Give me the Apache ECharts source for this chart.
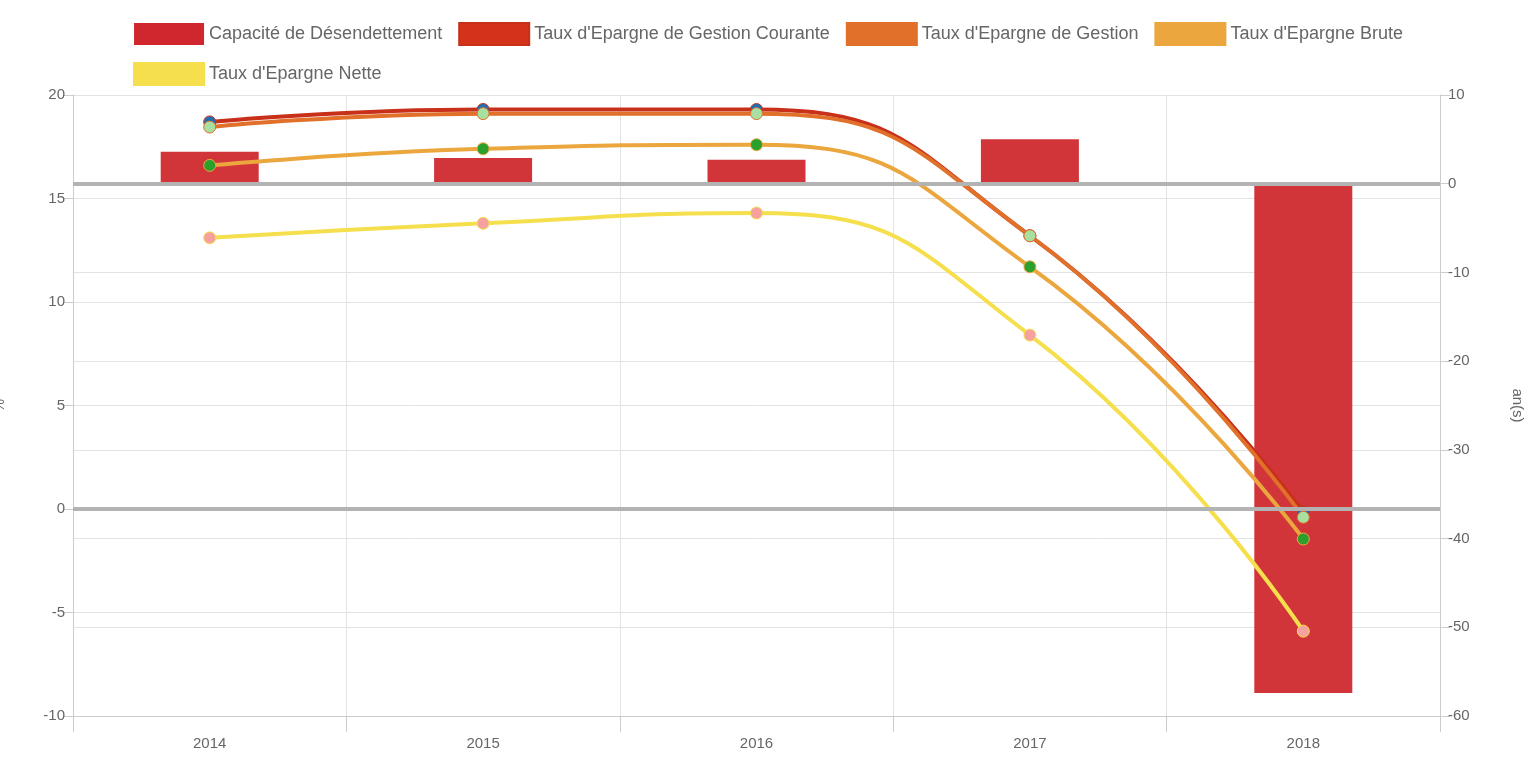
<!DOCTYPE html>
<html lang="fr">
<head>
  <meta charset="UTF-8">
  <script src="https://cdn.jsdelivr.net/npm/echarts@6/dist/echarts.min.js"></script>
  <style>body{margin:0;background:#fff;}</style>
</head>
<body>
<div id="main" style="width:1536px;height:762px;"></div>
<script>
  var years = ['2014', '2015', '2016', '2017', '2018'];
  var capacite = [3.6, 2.9, 2.7, 5.0, -57.4];
  var gestionCourante = [18.7, 19.3, 19.3, 13.2, -0.15];
  var gestion = [18.45, 19.1, 19.1, 13.2, -0.4];
  var brute = [16.6, 17.4, 17.6, 11.7, -1.45];
  var nette = [13.1, 13.8, 14.3, 8.4, -5.9];

  var chart = echarts.init(document.getElementById('main'));

  function lineSerie(name, data, color, dot) {
    return {
      name: name, type: 'line', data: data, smooth: 0.5, yAxisIndex: 0,
      symbol: 'circle', symbolSize: 12,
      lineStyle: {color: color, width: 4},
      itemStyle: {color: dot, borderColor: color, borderWidth: 1},
      color: color
    };
  }

  var zeroLine = {
    silent: true, symbol: 'none', label: {show: false},
    lineStyle: {color: '#b3b3b3', width: 4, type: 'solid'},
    data: [{yAxis: 0}]
  };

  var leftSerie = lineSerie("Taux d'Epargne Nette", nette, '#f5df4d', '#f7a0a0');
  leftSerie.markLine = zeroLine;

  var axisLbl = {color: '#666', fontSize: 15};

  chart.setOption({
    animation: false,
    textStyle: {fontFamily: 'Arial, Liberation Sans, sans-serif'},
    legend: {
      top: 17, left: 'center', width: 1500,
      itemWidth: 70, itemHeight: 22, itemGap: 16,
      textStyle: {fontSize: 18, color: '#666'},
      data: [
        {name: 'Capacité de Désendettement', icon: 'rect', itemStyle: {color: '#d0262e'}},
        {name: "Taux d'Epargne de Gestion Courante", icon: 'rect', itemStyle: {color: '#d4321a'}},
        {name: "Taux d'Epargne de Gestion", icon: 'rect', itemStyle: {color: '#e0702a'}},
        {name: "Taux d'Epargne Brute", icon: 'rect', itemStyle: {color: '#eba63e'}},
        {name: "Taux d'Epargne Nette", icon: 'rect', itemStyle: {color: '#f5df4d'}}
      ]
    },
    grid: {left: 73, right: 96, top: 95, bottom: 46, containLabel: false, outerBoundsMode: 'none'},
    xAxis: {
      type: 'category', data: years,
      axisLine: {onZero: false, lineStyle: {color: '#ccc'}},
      axisTick: {show: true, length: 16, lineStyle: {color: '#ccc'}},
      axisLabel: {color: '#666', fontSize: 15, margin: 20},
      splitLine: {show: true, lineStyle: {color: '#e3e3e3'}}
    },
    yAxis: [{
      type: 'value', min: -10, max: 20, interval: 5,
      name: '%', nameLocation: 'middle', nameRotate: 90, nameGap: 66,
      nameTextStyle: {color: '#666', fontSize: 15},
      axisLine: {show: true, lineStyle: {color: '#ccc'}},
      axisTick: {show: true, length: 10, lineStyle: {color: '#ccc'}},
      axisLabel: axisLbl,
      splitLine: {lineStyle: {color: '#e3e3e3'}}
    }, {
      type: 'value', min: -60, max: 10, interval: 10,
      name: 'an(s)', nameLocation: 'middle', nameRotate: 270, nameGap: 70,
      nameTextStyle: {color: '#666', fontSize: 15},
      axisLine: {show: true, lineStyle: {color: '#ccc'}},
      axisTick: {show: true, length: 10, lineStyle: {color: '#ccc'}},
      axisLabel: axisLbl,
      splitLine: {lineStyle: {color: '#e3e3e3'}}
    }],
    series: [
      {
        name: 'Capacité de Désendettement', type: 'bar', data: capacite, yAxisIndex: 1,
        barWidth: 98, itemStyle: {color: 'rgba(204,30,36,0.9)'}, z: 1,
        markLine: zeroLine
      },
      lineSerie("Taux d'Epargne de Gestion Courante", gestionCourante, '#c8301a', '#1f6fb4'),
      lineSerie("Taux d'Epargne de Gestion", gestion, '#e0702a', '#a8e0a0'),
      lineSerie("Taux d'Epargne Brute", brute, '#eba63e', '#2ca02c'),
      leftSerie
    ]
  });
</script>
</body>
</html>
